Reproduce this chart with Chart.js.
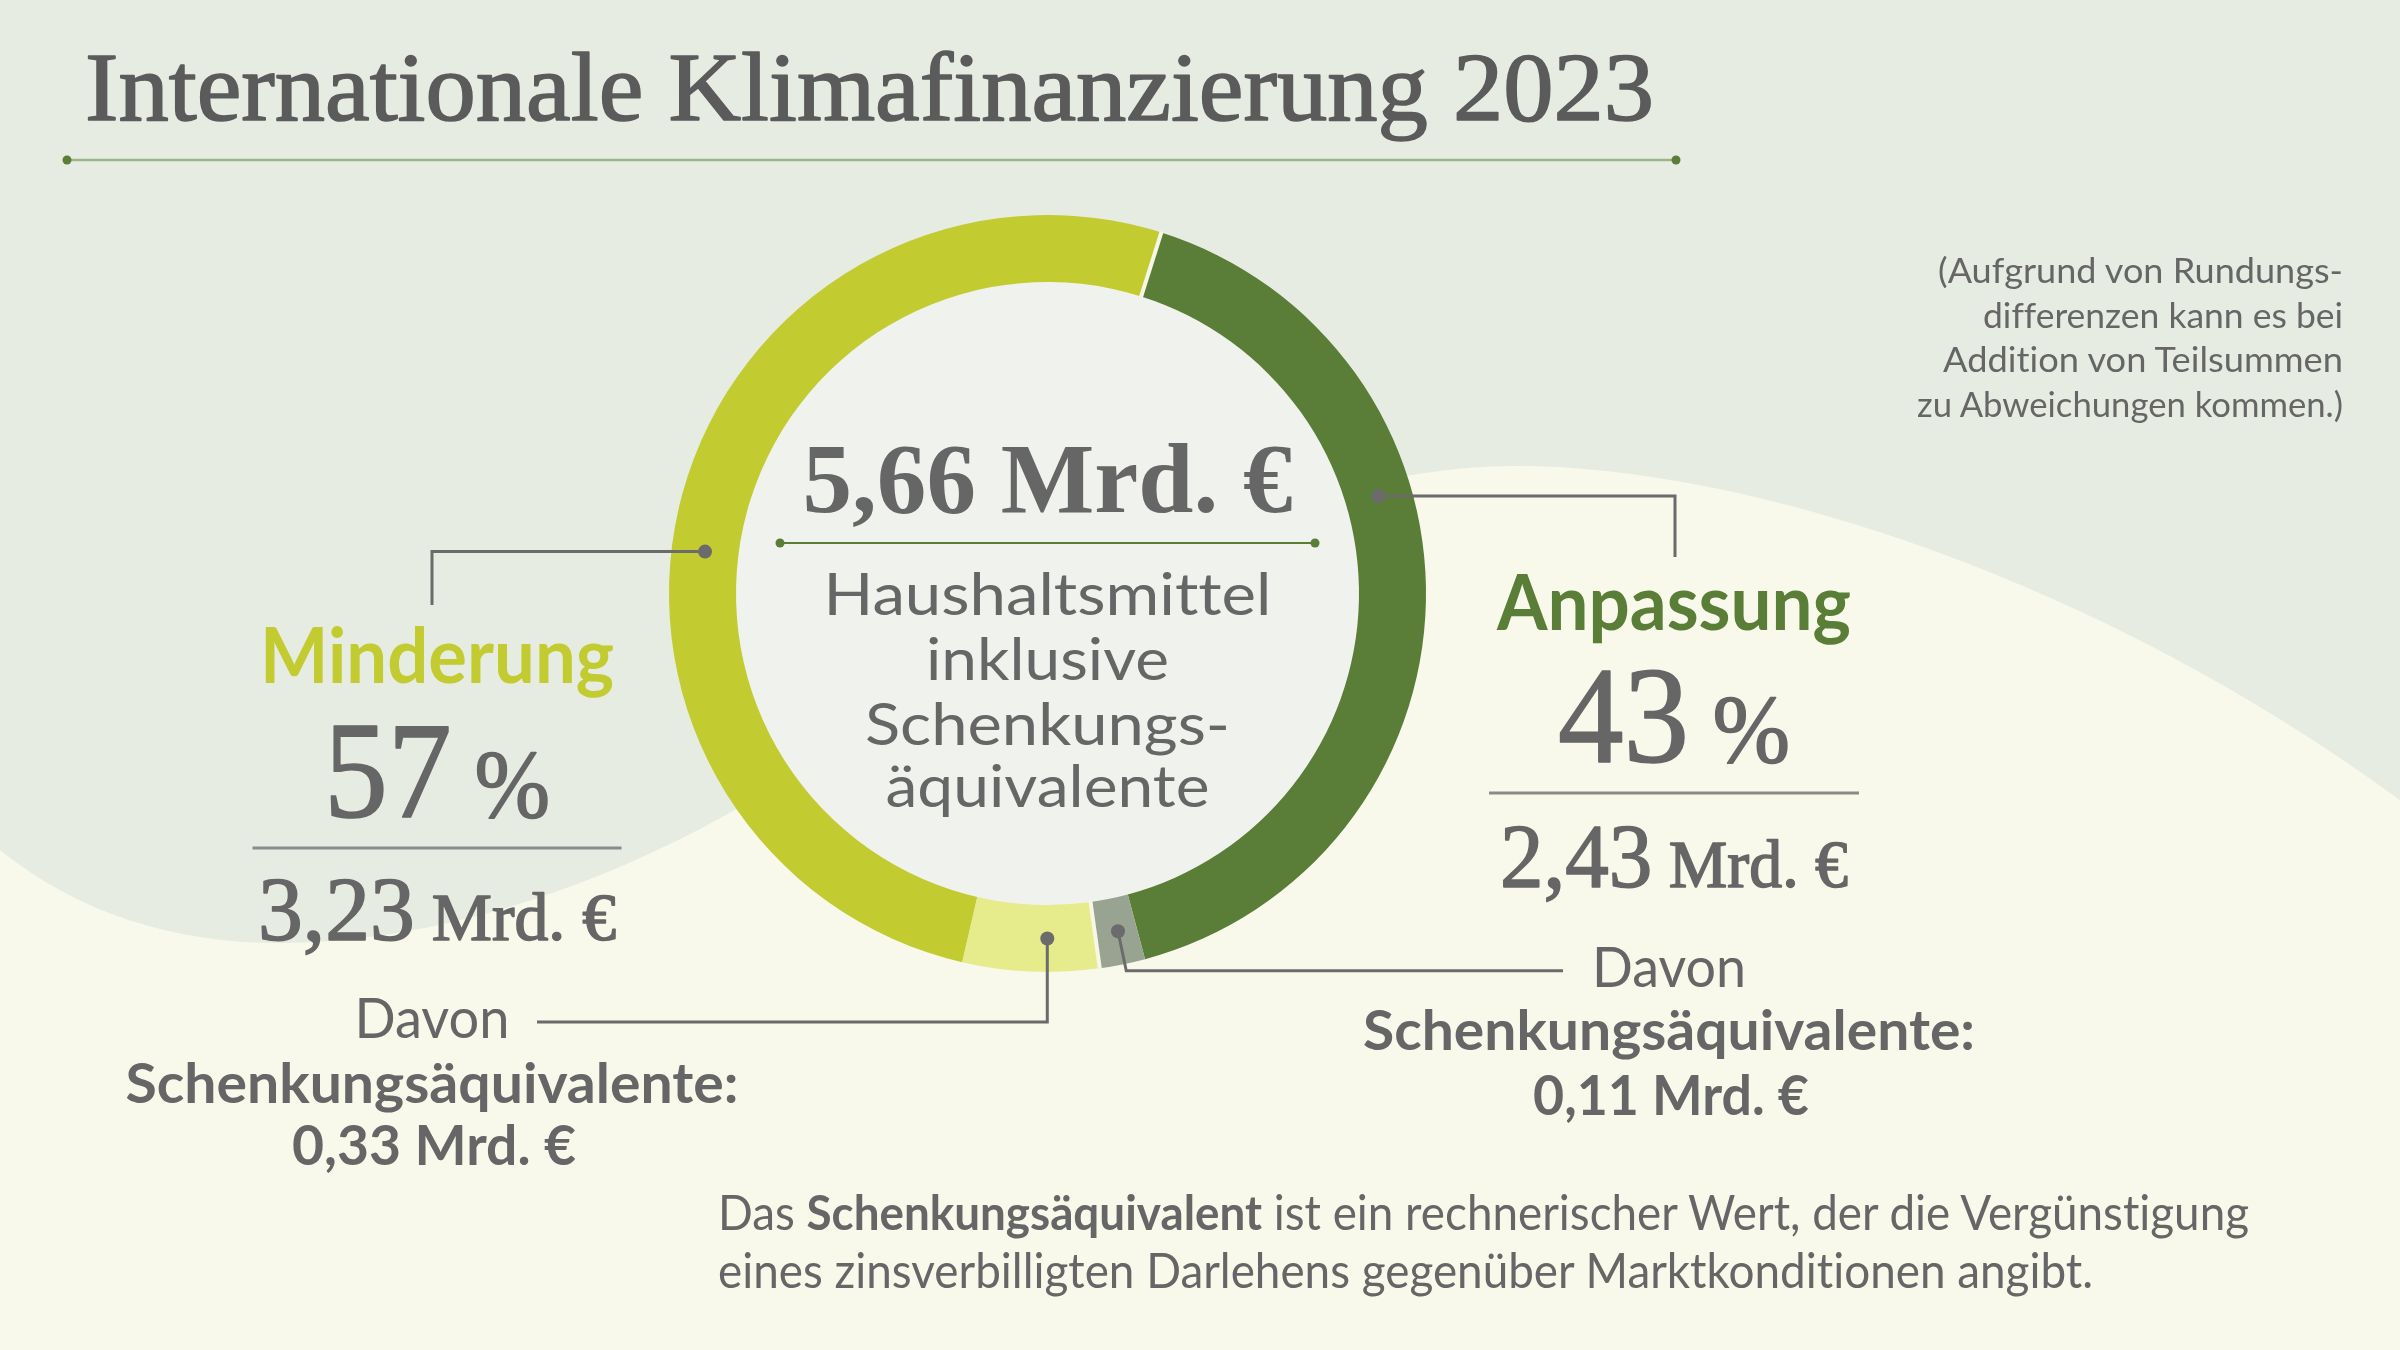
<!DOCTYPE html>
<html lang="de">
<head>
<meta charset="utf-8">
<title>Internationale Klimafinanzierung 2023</title>
<script src="https://cdn.jsdelivr.net/npm/chart.js@4.4.1/dist/chart.umd.min.js"></script>
<style>
  html, body { margin: 0; padding: 0; background: #e7ece3; }
  #wrap { position: relative; width: 2400px; height: 1350px; overflow: hidden; }
  #chart, #txt { position: absolute; left: 0; top: 0; }
  .sans { font-family: Lato, "Open Sans", sans-serif; font-variant-ligatures: none; }
  .serif { font-family: "Liberation Serif", "DejaVu Serif", serif; }
  .heavy { stroke-width: 1.6px; stroke-linejoin: round; }
  text { white-space: pre; }
</style>
</head>
<body>
<div id="wrap">
  <canvas id="chart" width="2400" height="1350"></canvas>
  <svg id="txt" width="2400" height="1350" xmlns="http://www.w3.org/2000/svg"></svg>
</div>
<script>
// Werte in Mrd. €
var categories = ['Anpassung', 'Minderung'];
var shares = [43, 57];                 // Anteil in %
var amounts = [2.43, 3.23];            // Mrd. €
var grantEquivalents = [0.11, 0.33];   // davon Schenkungsäquivalente
var total = 5.66;

var catColors = ['#5a7d37', '#c2cb2f'];
var segColors = ['#5a7d37', '#98a392', '#e6eb8c', '#c2cb2f'];

// ring clockwise from the top: Anpassung rest, Anpassung SÄ, Minderung SÄ, Minderung rest
var segLabels = ['Anpassung', 'Anpassung: Schenkungsäquivalente', 'Minderung: Schenkungsäquivalente', 'Minderung'];
var segValues = [
    amounts[0] - grantEquivalents[0],
    grantEquivalents[0],
    grantEquivalents[1],
    amounts[1] - grantEquivalents[1]
];

function fmt(v) {
    return v.toFixed(2).replace('.', ',');
}

//background with the two soft shapes
var backdrop = {
    id: 'backdrop',
    beforeDraw: function (chart) {
        var c = chart.ctx;
        c.save();
        c.fillStyle = '#e7ece3';
        c.fillRect(0, 0, chart.width, chart.height);
        c.fillStyle = '#f8f9eb';
        c.beginPath();
        c.moveTo(0, 850);
        c.bezierCurveTo(80, 915, 180, 945, 290, 943);
        c.bezierCurveTo(450, 940, 620, 880, 760, 795);
        c.bezierCurveTo(1000, 620, 1280, 466, 1515, 466);
        c.bezierCurveTo(1750, 466, 2100, 580, 2400, 800);
        c.lineTo(2400, 1350);
        c.lineTo(0, 1350);
        c.closePath();
        c.fill();
        c.restore();
    }
};

function polar(arc, angle, r) {
    return [arc.x + Math.cos(angle) * r, arc.y + Math.sin(angle) * r];
}
function along(arc, frac) {
    return arc.startAngle + frac * (arc.endAngle - arc.startAngle);
}

//inner disc, separators and leader lines
var ringDecor = {
    id: 'ringDecor',
    beforeDatasetsDraw: function (chart) {
        var a = chart.getDatasetMeta(0).data[0];
        var c = chart.ctx;
        c.save();
        c.fillStyle = '#f0f2ed';
        c.beginPath();
        c.arc(a.x, a.y, a.innerRadius + 1, 0, Math.PI * 2);
        c.fill();
        c.restore();
    },
    afterDatasetsDraw: function (chart) {
        var arcs = chart.getDatasetMeta(0).data;
        var c = chart.ctx;
        c.save();
        c.strokeStyle = '#f6f7e6';
        c.lineWidth = 4;
        [arcs[0].startAngle, arcs[1].endAngle].forEach(function (ang) {
            var p0 = polar(arcs[0], ang, arcs[0].innerRadius - 1);
            var p1 = polar(arcs[0], ang, arcs[0].outerRadius + 1);
            c.beginPath();
            c.moveTo(p0[0], p0[1]);
            c.lineTo(p1[0], p1[1]);
            c.stroke();
        });

        var mid = function (a) { return (a.innerRadius + a.outerRadius) / 2; };
        c.strokeStyle = '#6b6b6b';
        c.fillStyle = '#6b6b6b';
        c.lineWidth = 3;
        var lead = function (start, pts) {
            c.beginPath();
            c.moveTo(start[0], start[1]);
            pts.forEach(function (p) { c.lineTo(p[0], p[1]); });
            c.stroke();
            c.beginPath();
            c.arc(start[0], start[1], 7, 0, Math.PI * 2);
            c.fill();
        };
        // Anpassung
        var pA = polar(arcs[0], along(arcs[0], 0.38), mid(arcs[0]));
        lead(pA, [[1675, pA[1]], [1675, 557]]);
        // Minderung
        var pM = polar(arcs[3], along(arcs[3], 0.455), mid(arcs[3]));
        lead(pM, [[432, pM[1]], [432, 605]]);
        // Minderung Schenkungsäquivalente
        var pMs = polar(arcs[2], along(arcs[2], 0.38), mid(arcs[2]));
        lead(pMs, [[pMs[0], 1022], [537, 1022]]);
        // Anpassung Schenkungsäquivalente
        var angS = along(arcs[1], 0.45);
        var pAs = polar(arcs[1], angS, mid(arcs[1]));
        var pOut = polar(arcs[1], angS, arcs[1].outerRadius + 7);
        lead(pAs, [pOut, [1563, pOut[1]]]);
        c.restore();
    }
};

var ctx = document.getElementById('chart').getContext('2d');
var ring = new Chart(ctx, {
    type: 'doughnut',
    data: {
        labels: segLabels,
        datasets: [{
            data: segValues,
            backgroundColor: segColors,
            borderWidth: 0
        }]
    },
    options: {
        responsive: false,
        devicePixelRatio: 1,
        animation: false,
        rotation: 17.5,
        cutout: '82.3%',
        layout: { padding: { left: 669, top: 215, right: 974, bottom: 378 } },
        plugins: { legend: { display: false }, tooltip: { enabled: false } },
        events: []
    },
    plugins: [backdrop, ringDecor]
});

// texts
var NS = 'http://www.w3.org/2000/svg';
var svg = document.getElementById('txt');
function el(name, attrs, parent) {
    var e = document.createElementNS(NS, name);
    for (var k in attrs) e.setAttribute(k, attrs[k]);
    (parent || svg).appendChild(e);
    return e;
}
function text(x, y, parts, attrs, w) {
    var a = Object.assign({ x: x, y: y }, attrs);
    if (w) { a.textLength = w; a.lengthAdjust = 'spacingAndGlyphs'; }
    var t = el('text', a);
    parts.forEach(function (p) {
        var s = el('tspan', p.attrs || {}, t);
        s.textContent = p.t;
    });
    return t;
}

// title
text(85, 120, [{ t: 'Internationale Klimafinanzierung 2023' }],
    { 'class': 'serif heavy', 'font-size': 98, fill: '#5b5b5b', stroke: '#5b5b5b' }, 1569);
el('line', { x1: 67, y1: 160, x2: 1676, y2: 160, stroke: '#9db38a', 'stroke-width': 2.5 });
el('circle', { cx: 67, cy: 160, r: 4.5, fill: '#5a7d37' });
el('circle', { cx: 1676, cy: 160, r: 4.5, fill: '#5a7d37' });

// note
var note = ['(Aufgrund von Rundungs-', 'differenzen kann es bei', 'Addition von Teilsummen', 'zu Abweichungen kommen.)'];
var noteW = [405, 360, 400, 426];
note.forEach(function (line, i) {
    text(2343, 283 + i * 44.7, [{ t: line }],
        { 'class': 'sans', 'font-size': 35, fill: '#666666', 'text-anchor': 'end' }, noteW[i]);
});

// centre
text(1047.5, 512, [{ t: fmt(total) + ' Mrd. €' }],
    { 'class': 'serif', 'font-size': 100, 'font-weight': 700, fill: '#666666', 'text-anchor': 'middle' }, 490);
el('line', { x1: 780, y1: 543, x2: 1315, y2: 543, stroke: '#5a7d37', 'stroke-width': 2 });
el('circle', { cx: 780, cy: 543, r: 4.5, fill: '#5a7d37' });
el('circle', { cx: 1315, cy: 543, r: 4.5, fill: '#5a7d37' });
var centre = ['Haushaltsmittel', 'inklusive', 'Schenkungs-', 'äquivalente'];
var centreW = [448, 243, 365, 324];
var centreY = [615, 680, 745, 807];
centre.forEach(function (line, i) {
    text(1047.5, centreY[i], [{ t: line }],
        { 'class': 'sans', 'font-size': 58, fill: '#666666', 'text-anchor': 'middle' }, centreW[i]);
});

// category blocks (0 = Anpassung right, 1 = Minderung left)
var blocks = [
    { cx: 1674, dx: 1669, yName: 630, yPct: 762, yRule: 793, ruleW: 370, yAmt: 887, yDavon: 987, ySae: 1050, yVal: 1115,
      wName: 354, wPct: 232, wAmt: 348, wDavon: 154, wSae: 612, wVal: 276 },
    { cx: 437, dx: 432, yName: 683, yPct: 817, yRule: 848, ruleW: 369, yAmt: 940, yDavon: 1038, ySae: 1103, yVal: 1165,
      wName: 354, wPct: 226, wAmt: 358, wDavon: 155, wSae: 613, wVal: 284 }
];
blocks.forEach(function (b, i) {
    text(b.cx, b.yName, [{ t: categories[i] }],
        { 'class': 'sans', 'font-size': 76, 'font-weight': 700, fill: catColors[i], 'text-anchor': 'middle' }, b.wName);
    text(b.cx, b.yPct, [{ t: String(shares[i]), attrs: { 'font-size': 138 } }, { t: ' %', attrs: { 'font-size': 98 } }],
        { 'class': 'serif heavy', fill: '#666666', stroke: '#666666', 'text-anchor': 'middle' }, b.wPct);
    el('line', { x1: b.cx - b.ruleW / 2, y1: b.yRule, x2: b.cx + b.ruleW / 2, y2: b.yRule, stroke: '#8a8a8a', 'stroke-width': 3 });
    text(b.cx, b.yAmt, [{ t: fmt(amounts[i]), attrs: { 'font-size': 90 } }, { t: ' Mrd. €', attrs: { 'font-size': 68 } }],
        { 'class': 'serif heavy', fill: '#666666', stroke: '#666666', 'text-anchor': 'middle' }, b.wAmt);
    text(b.dx, b.yDavon, [{ t: 'Davon' }],
        { 'class': 'sans', 'font-size': 56, fill: '#666666', 'text-anchor': 'middle' }, b.wDavon);
    text(b.dx, b.ySae, [{ t: 'Schenkungsäquivalente:' }],
        { 'class': 'sans', 'font-size': 56, 'font-weight': 700, fill: '#666666', 'text-anchor': 'middle' }, b.wSae);
    text(b.dx + 2, b.yVal, [{ t: fmt(grantEquivalents[i]) + ' Mrd. €' }],
        { 'class': 'sans', 'font-size': 56, 'font-weight': 700, fill: '#666666', 'text-anchor': 'middle' }, b.wVal);
});

// footnote
text(718, 1230, [{ t: 'Das ' }, { t: 'Schenkungsäquivalent', attrs: { 'font-weight': 700 } },
    { t: ' ist ein rechnerischer Wert, der die Vergünstigung' }],
    { 'class': 'sans', 'font-size': 48, fill: '#666666' }, 1531);
text(718, 1288, [{ t: 'eines zinsverbilligten Darlehens gegenüber Marktkonditionen angibt.' }],
    { 'class': 'sans', 'font-size': 48, fill: '#666666' }, 1375);
</script>
</body>
</html>
